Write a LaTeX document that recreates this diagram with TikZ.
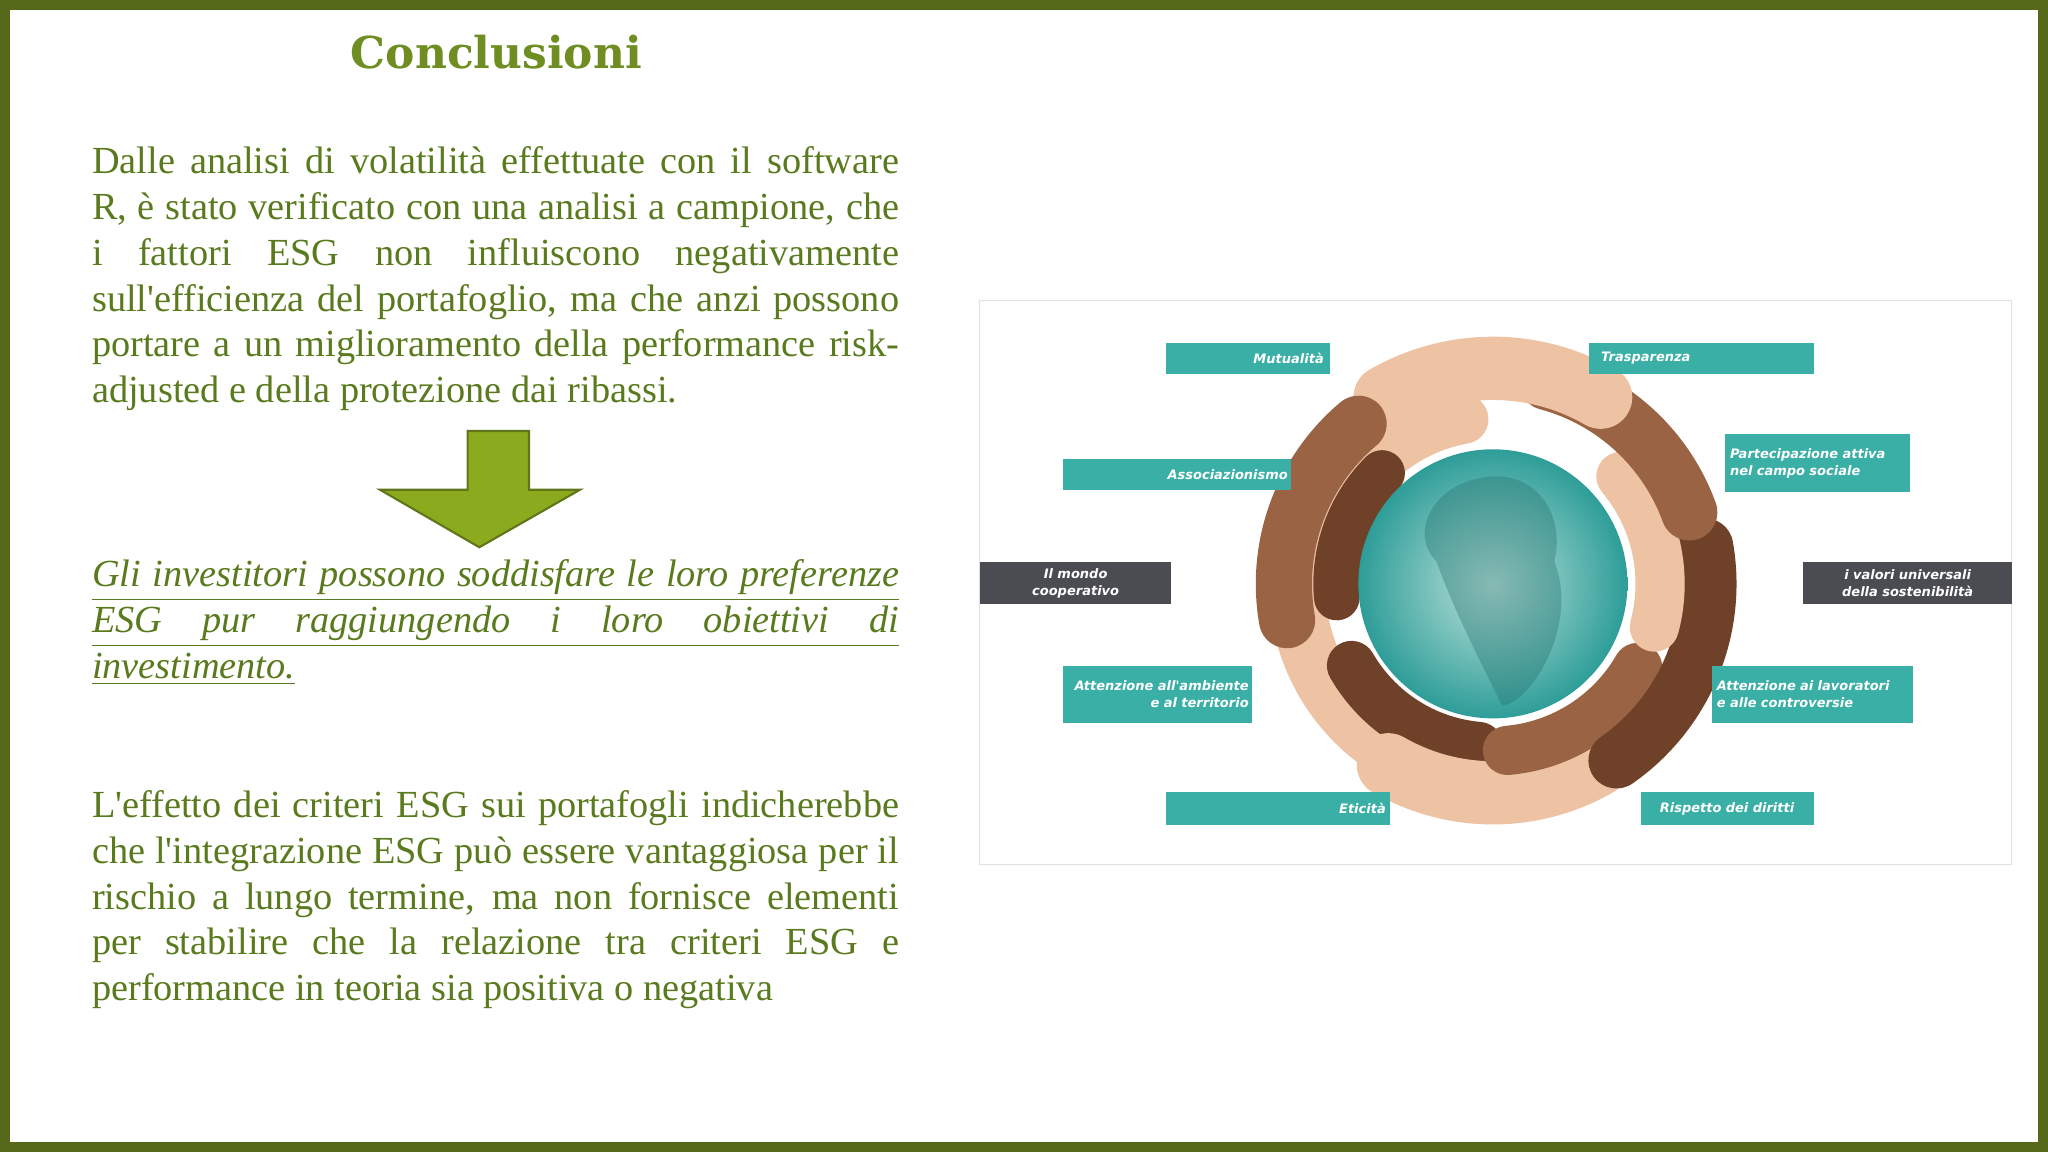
\documentclass[tikz,border=0pt]{standalone}
\usepackage{fontspec}
\setmainfont{Liberation Serif}
\newfontfamily\lblfont{DejaVu Sans}
\newfontfamily\ttlfont{DejaVu Serif}
\definecolor{frame}{HTML}{56681A}
\definecolor{txt}{HTML}{5A7A1E}
\definecolor{ttl}{HTML}{6E8E22}
\definecolor{arrowfill}{HTML}{8CAA1E}
\definecolor{tealbox}{HTML}{3AAFA6}
\definecolor{darkbox}{HTML}{4A4C52}
\definecolor{skinA}{HTML}{EDC3A4}
\definecolor{skinB}{HTML}{9A6444}
\definecolor{skinC}{HTML}{6E4128}
\definecolor{globeA}{HTML}{2E9D98}
\definecolor{globeB}{HTML}{BFE3DC}
\newcommand{\ap}{\textquotesingle}
\tikzset{
  body/.style={anchor=north west,inner sep=0,text width=8.07cm,align=justify,text=txt,font=\fontsize{10.9}{13}\selectfont},
  lbl/.style={fill=tealbox,text=white,font=\lblfont\bfseries\itshape\fontsize{3.7}{4.8}\selectfont,inner sep=0,align=left},
  dlbl/.style={lbl,fill=darkbox,align=center},
  hand/.style={line width=#1,line cap=round},
}
\begin{document}
\begin{tikzpicture}[x=0.013061cm,y=-0.013061cm]
\useasboundingbox (0,0) rectangle (1568,882);
\fill[white] (0,0) rectangle (1568,882);
\draw[frame,line width=8*0.013061cm] (4,4) rectangle (1564,878);
\node[text=ttl,font=\ttlfont\fontsize{12.5}{15}\bfseries\selectfont] (title) at (380,40) {Conclusioni};
\node[body] (t1) at (70,112) {Dalle analisi di volatilità effettuate con il software\linebreak R, è stato verificato con una analisi a campione, che\linebreak i fattori ESG non influiscono negativamente\linebreak sull\ap efficienza del portafoglio, ma che anzi possono\linebreak portare a un miglioramento della performance risk-\linebreak adjusted e della protezione dai ribassi.};
\fill[arrowfill,draw=frame!80!arrowfill,line width=0.6] (358,330) -- (405,330) -- (405,375) -- (444,375) -- (367,419) -- (291,375) -- (358,375) -- cycle;
\node[body,align=left,font=\fontsize{10.9}{13}\itshape\selectfont] (t2) at (70,428) {\underline{\makebox[8.07cm]{Gli\hfill investitori\hfill possono\hfill soddisfare\hfill le\hfill loro\hfill preferenze}}\\\underline{\makebox[8.07cm]{ESG\hfill pur\hfill raggiungendo\hfill i\hfill loro\hfill obiettivi\hfill di}}\\\underline{investimento.}};
\node[body] (t3) at (70,605) {L\ap effetto dei criteri ESG sui portafogli indicherebbe\linebreak che l\ap integrazione ESG può essere vantaggiosa per il\linebreak rischio a lungo termine, ma non fornisce elementi\linebreak per stabilire che la relazione tra criteri ESG e\linebreak performance in teoria sia positiva o negativa};
% picture
\draw[black!12,line width=0.4] (750,230) rectangle (1540,662);
% hands
\coordinate (c) at (1143,447);
\draw[skinA,hand=16] (c) ++(200:150) arc (200:125:150);
\draw[skinC,hand=14] (c) ++(150:125) arc (150:95:125);
\draw[skinA,hand=18] (c) ++(120:160) arc (120:60:160);
\draw[skinB,hand=14] (c) ++(85:128) arc (85:30:128);
\draw[skinC,hand=16] (c) ++(55:165) arc (55:-10:165);
\draw[skinA,hand=14] (c) ++(15:128) arc (15:-40:128);
\draw[skinB,hand=16] (c) ++(-20:160) arc (-20:-75:160);
\draw[skinA,hand=18] (c) ++(-60:165) arc (-60:-120:165);
\draw[skinA,hand=14] (c) ++(-100:128) arc (-100:-160:128);
\draw[skinB,hand=16] (c) ++(-130:160) arc (-130:-190:160);
\draw[skinC,hand=13] (c) ++(175:120) arc (175:225:120);
\shade[inner color=globeB,outer color=globeA] (c) circle (103);
\fill[globeA!70!black,opacity=0.35] (1120,370) .. controls (1170,350) and (1200,390) .. (1190,430) .. controls (1210,480) and (1170,540) .. (1150,540) .. controls (1130,500) and (1110,460) .. (1100,430) .. controls (1080,410) and (1095,380) .. cycle;
\node[lbl,minimum width=126*0.013061cm,minimum height=24*0.013061cm,anchor=north west,align=right,text width=116*0.013061cm] (m1) at (892,262) {Mutualità};
\node[lbl,minimum width=172*0.013061cm,minimum height=24*0.013061cm,anchor=north west,text width=164*0.013061cm] (m2) at (1216,262) {\hspace{2pt}Trasparenza};
\node[lbl,minimum width=175*0.013061cm,minimum height=24*0.013061cm,anchor=north west,align=right,text width=170*0.013061cm] (m3) at (813,351) {Associazionismo};
\node[lbl,minimum width=142*0.013061cm,minimum height=44*0.013061cm,anchor=north west,text width=134*0.013061cm] (m4) at (1320,332) {Partecipazione attiva\\nel campo sociale};
\node[dlbl,minimum width=146*0.013061cm,minimum height=32*0.013061cm,anchor=north west,text width=120*0.013061cm] (m5) at (750,430) {Il mondo\\cooperativo};
\node[dlbl,minimum width=160*0.013061cm,minimum height=32*0.013061cm,anchor=north west,text width=150*0.013061cm] (m6) at (1380,430) {i valori universali\\della sostenibilità};
\node[lbl,minimum width=145*0.013061cm,minimum height=44*0.013061cm,anchor=north west,align=right,text width=140*0.013061cm] (m7) at (813,509) {Attenzione all\ap ambiente\\e al territorio};
\node[lbl,minimum width=154*0.013061cm,minimum height=44*0.013061cm,anchor=north west,text width=146*0.013061cm] (m8) at (1310,509) {Attenzione ai lavoratori\\e alle controversie};
\node[lbl,minimum width=172*0.013061cm,minimum height=25*0.013061cm,anchor=north west,align=right,text width=165*0.013061cm] (m9) at (892,606) {Eticità};
\node[lbl,minimum width=132*0.013061cm,minimum height=25*0.013061cm,anchor=north west,text width=125*0.013061cm] (m10) at (1256,606) {\hspace{4pt}Rispetto dei diritti};
\end{tikzpicture}
\end{document}
